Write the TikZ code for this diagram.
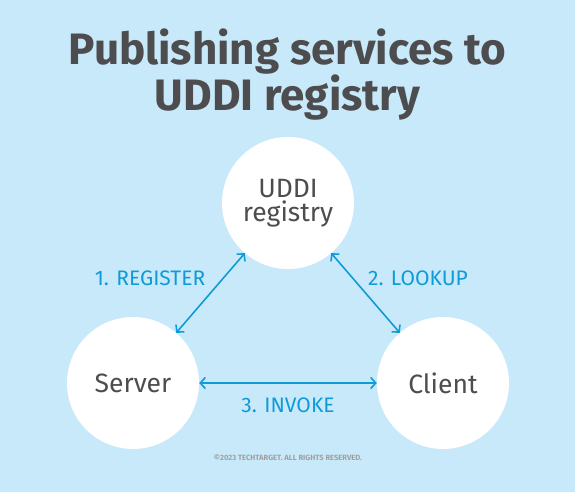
\documentclass[tikz,border=0pt]{standalone}
\usepackage{fontspec}
\setmainfont{Fira Sans}
\newfontfamily\titlefont{Fira Sans}
\usetikzlibrary{arrows.meta}
\usetikzlibrary{positioning}
\definecolor{bgblue}{RGB}{200,233,249}
\definecolor{darkgray}{RGB}{77,77,79}
\definecolor{linkblue}{RGB}{14,155,216}
\definecolor{notegray}{RGB}{160,160,160}

\begin{document}
\begin{tikzpicture}[x=1pt,y=-1pt,>={Straight Barb[length=5pt,width=11pt]},
  party/.style={circle,fill=white,minimum size=132pt,inner sep=0pt,text=darkgray,font=\fontsize{26.5}{28}\selectfont,align=center},
  link/.style={linkblue,line width=1.6pt,<->},
  step label/.style={text=linkblue,font=\fontsize{21}{23}\selectfont}]

\fill[bgblue] (0,0) rectangle (575,492);
\useasboundingbox (0,0) rectangle (575,492);

% title
\node[text=darkgray,font=\titlefont\bfseries\fontsize{44}{46}\selectfont,align=center] (title) at (287.5,75) {Publishing services to\\UDDI registry};

% the three parties
\node[party] (registry) at (288,203) {UDDI\\[-4pt]registry};
\node[party] (server) at (133,383) {Server};
\node[party] (client) at (443,383) {Client};

\draw[link] (server) -- (registry);
\draw[link] (registry) -- (client);
\draw[link] (server) -- (client);

\node[step label] (register) at (150,278) {1. REGISTER};
\node[step label] (lookup) at (418,278) {2. LOOKUP};
\node[step label] (invoke) at (288,405) {3. INVOKE};

%\node at (288,458) {copyright};
\node[text=notegray,font=\bfseries\fontsize{7.6}{8}\selectfont] (note) at (288,458) {\textcopyright2023 TECHTARGET. ALL RIGHTS RESERVED.};
\end{tikzpicture}
\end{document}
